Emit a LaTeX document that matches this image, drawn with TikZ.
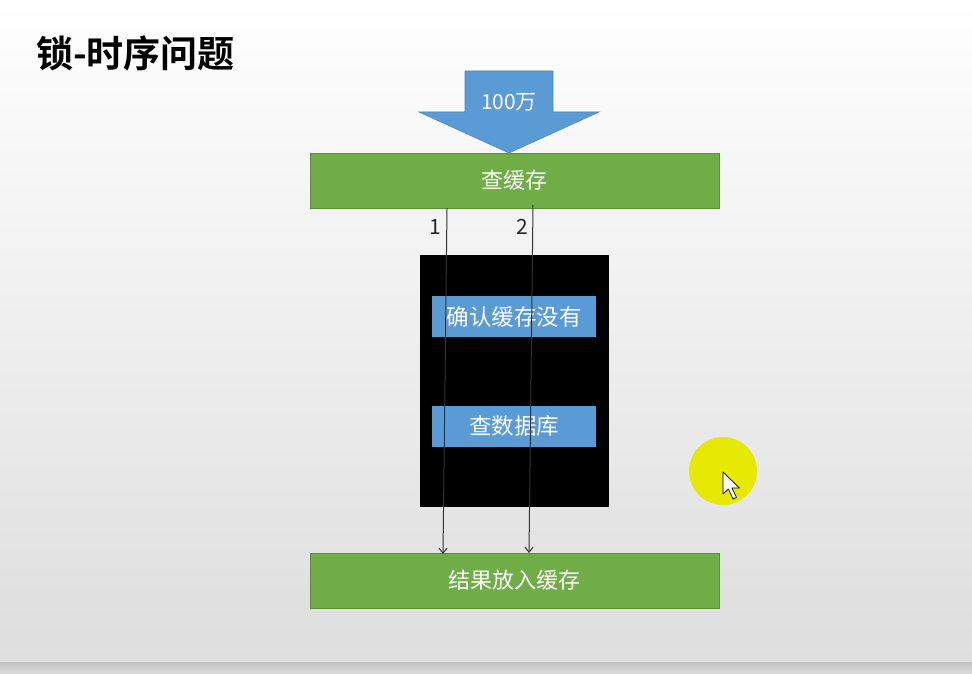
\documentclass[tikz,border=0pt]{standalone}
\usepackage{fontspec}
\setmainfont{Noto Sans CJK SC}
\newfontfamily\cjkbold{Noto Sans CJK SC Bold}
\usetikzlibrary{arrows.meta}
\definecolor{gfill}{HTML}{70AD47}
\definecolor{gline}{HTML}{5A8F3A}
\definecolor{bfill}{HTML}{5B9BD5}
\definecolor{bline}{HTML}{4A86BE}
\definecolor{hilite}{HTML}{E8E805}
\tikzset{
  greenbox/.style={draw=gline, line width=0.8pt, fill=gfill, text=white, minimum width=409pt, minimum height=55pt, inner sep=0pt, font=\fontsize{22}{22}\selectfont},
  bluebox/.style={fill=bfill, text=white, minimum width=164pt, minimum height=41pt, inner sep=0pt, font=\fontsize{22.5}{22.5}\selectfont},
  conn/.style={draw=black!80, line width=1pt},
  arr/.style={conn, -{Straight Barb[length=5pt,width=8pt]}},
  numlabel/.style={text=black!85, font=\fontsize{21}{21}\selectfont, inner sep=0pt}
}
\begin{document}
\begin{tikzpicture}[x=1pt,y=-1pt]
\useasboundingbox (0,0) rectangle (972,674);
% background
\shade[top color=white, bottom color=black!13] (0,0) rectangle (972,662);
\shade[top color=black!24, bottom color=black!14] (0,662) rectangle (972,674);
% title
\node[anchor=west, inner sep=0pt, font=\cjkbold\fontsize{37}{37}\selectfont] (title) at (36,53) {锁-时序问题};
% big arrow
\draw[fill=bfill, draw=bline, line width=0.6pt] (465,71) -- (553,71) -- (553,112) -- (599,112) -- (509,153) -- (419,112) -- (465,112) -- cycle;
\node[text=white, font=\fontsize{21}{21}\selectfont, inner sep=0pt] (million) at (509,102) {100万};
% green boxes
\node[greenbox] (check) at (514.5,180.5) {查缓存};
\node[greenbox] (result) at (514.5,580.5) {结果放入缓存};
% black rect
\fill[black] (420,255) rectangle (609,507);
% blue boxes
\node[bluebox] (confirm) at (514,316.5) {确认缓存没有};
\node[bluebox] (db) at (514,426) {查数据库};
% connector end points
\coordinate (s1) at (447,208);
\coordinate (e1) at (443,554);
\coordinate (s2) at (533,205);
\coordinate (e2) at (529,553);
\draw[arr] (s1) -- (e1);
\draw[arr] (s2) -- (e2);
\node[numlabel] (n1) at (435.5,227) {1};
\node[numlabel] (n2) at (522,227) {2};
% cursor highlight
\fill[hilite] (723,471) circle (34);
\draw[fill=white, draw=black, line width=0.7pt, line join=round] (723,472) -- (723,494) -- (728.5,489) -- (733,499) -- (736.5,497.5) -- (732,488) -- (739.5,488) -- cycle;
\end{tikzpicture}
\end{document}
